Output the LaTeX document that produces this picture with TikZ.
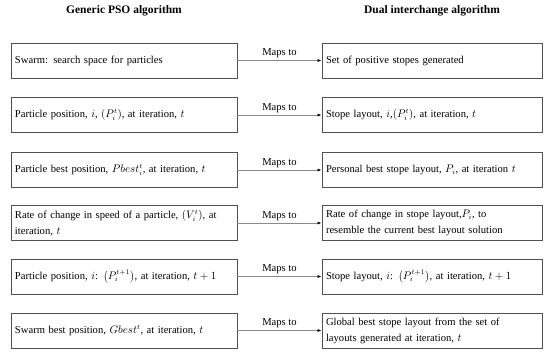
\documentclass[tikz,border=0pt]{standalone}
\usepackage{fontspec}
\setmainfont{Liberation Serif}
\usetikzlibrary{arrows.meta}
\definecolor{boxline}{HTML}{505050}
\definecolor{arrline}{HTML}{8A8A8A}
\begin{document}
\begin{tikzpicture}[x=1pt,y=-1pt,
  lbox/.style={draw=boxline,line width=0.8pt,text width=218pt,align=left,
    inner xsep=4pt,inner ysep=2pt,minimum height=35pt,font=\fontsize{10.6}{16}\selectfont},
  rbox/.style={lbox,text width=212pt},
  title/.style={font=\fontsize{11.5}{13}\selectfont\bfseries},
  maps/.style={draw=arrline,line width=0.7pt,-{Latex[length=4pt,width=3pt,color=black]}},
  mlabel/.style={above,font=\fontsize{10.6}{12}\selectfont,inner sep=2pt}]
\useasboundingbox (0,0) rectangle (550,357);
\node[title] (t1) at (124,11) {Generic PSO algorithm};
\node[title] (t2) at (432,11) {Dual interchange algorithm};
% rows
\node[lbox] (l1) at (124,60.5) {Swarm: search space for particles};
\node[rbox] (r1) at (432,60.5) {Set of positive stopes generated};
\node[lbox] (l2) at (124,115) {Particle position, $i$, $\left(P_i^t\right)$, at iteration, $t$};
\node[rbox] (r2) at (432,115) {Stope layout, $i$,$\left(P_i^t\right)$,\ at iteration, $t$};
\node[lbox] (l3) at (124,170) {Particle best position, $Pbest_i^t$, at iteration, $t$};
\node[rbox] (r3) at (432,170) {Personal best stope layout, $P_i$, at iteration $t$};
\node[lbox] (l4) at (124,223) {Rate of change in speed of a particle, $\left(V_i^t\right)$, at\\iteration, $t$};
\node[rbox] (r4) at (432,223) {Rate of change in stope layout,$P_i$, to\\resemble the current best layout solution};
\node[lbox] (l5) at (124,276.5) {Particle position, $i$: $\left(P_i^{t+1}\right)$, at iteration, $t+1$};
\node[rbox] (r5) at (432,276.5) {Stope layout, $i$: $\left(P_i^{t+1}\right)$,\ at iteration, $t+1$};
\node[lbox] (l6) at (124,330.5) {Swarm best position, $Gbest^t$, at iteration, $t$};
\node[rbox] (r6) at (432,330.5) {Global best stope layout from the set of\\layouts generated at iteration, $t$};
\foreach \k in {1,...,6}{
  \draw[maps] (l\k.east) -- node[mlabel]{Maps to} (r\k.west);
}
\end{tikzpicture}
\end{document}
